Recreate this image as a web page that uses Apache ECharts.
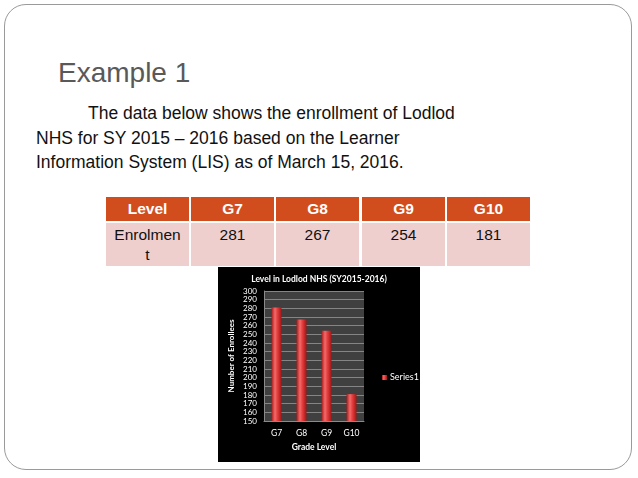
<!DOCTYPE html>
<html>
<head>
<meta charset="utf-8">
<script src="https://cdn.jsdelivr.net/npm/echarts@6/dist/echarts.min.js"></script>
<style>
  html, body { margin:0; padding:0; background:#fff; }
  body { width:638px; height:478px; position:relative; overflow:hidden; font-family:"Liberation Sans", Arial, sans-serif; }
  #frame { position:absolute; left:4px; top:4px; width:628px; height:466px; border:1px solid #9a9a9a; border-radius:22px; box-sizing:border-box; }
  #title { position:absolute; left:58px; top:59px; font-size:28px; line-height:28px; color:#595959; white-space:nowrap; }
  #para { position:absolute; left:36px; top:101px; font-size:17.5px; line-height:24.5px; color:#111; white-space:nowrap; }
  .cell { position:absolute; box-sizing:border-box; text-align:center; }
  .hd { background:#d24d1e; color:#fff; font-weight:bold; font-size:15.5px; line-height:24px; }
  .bd { background:#efcfce; color:#111; font-size:15.5px; line-height:20px; padding:2px 8px 0 8px; word-break:break-all; }
  #chart { position:absolute; left:218px; top:267px; width:202px; height:195px; background:#000; }
</style>
</head>
<body>
<div id="frame"></div>
<div id="title">Example 1</div>
<div id="para"><span style="display:inline-block;width:52px"></span>The data below shows the enrollment of Lodlod<br>NHS for SY 2015 – 2016 based on the Learner<br>Information System (LIS) as of March 15, 2016.</div>
<div id="table"></div>
<div id="chart"></div>
<script>
const categories = ["G7", "G8", "G9", "G10"];
const enrolment = [281, 267, 254, 181];
const headerLabel = "Level";
const rowLabel = "Enrolment";
const seriesName = "Series1";
const chartTitle = "Level in Lodlod NHS (SY2015-2016)";
const yTicks = { min: 150, max: 300, interval: 10 };

// table built from the same arrays
(function () {
  const t = document.getElementById('table');
  const colLeft = [106, 191, 276, 362, 447];
  const colW = 83;
  const head = [headerLabel].concat(categories);
  const body = [rowLabel].concat(enrolment.map(String));
  head.forEach((txt, i) => {
    const d = document.createElement('div');
    d.className = 'cell hd';
    d.style.left = colLeft[i] + 'px'; d.style.top = '197px';
    d.style.width = colW + 'px'; d.style.height = '24px';
    d.textContent = txt; t.appendChild(d);
  });
  body.forEach((txt, i) => {
    const d = document.createElement('div');
    d.className = 'cell bd';
    d.style.left = colLeft[i] + 'px'; d.style.top = '223px';
    d.style.width = colW + 'px'; d.style.height = '43px';
    d.textContent = txt; t.appendChild(d);
  });
})();

const chart = echarts.init(document.getElementById('chart'), null, { renderer: 'canvas' });
const font = 'Lato, "Open Sans", sans-serif';
chart.setOption({
  backgroundColor: '#000',
  animation: false,
  title: {
    text: chartTitle, left: 'center', top: 3,
    textStyle: { color: '#fff', fontSize: 8.5, fontWeight: 'bold', fontFamily: font }
  },
  legend: {
    data: [seriesName], left: 159, top: 101, icon: 'rect', itemWidth: 5, itemHeight: 5, itemGap: 3,
    textStyle: { color: '#fff', fontSize: 9, fontFamily: font, padding: [0, 0, 0, -2] }
  },
  grid: {
    left: 46, top: 24, width: 100, height: 130, show: true,
    backgroundColor: '#404040', borderWidth: 0
  },
  xAxis: {
    type: 'category', data: categories,
    name: 'Grade Level', nameLocation: 'middle', nameGap: 22,
    nameTextStyle: { color: '#fff', fontSize: 8.5, fontWeight: 'bold', fontFamily: font },
    axisLine: { lineStyle: { color: '#8a8a8a' } },
    axisTick: { show: false },
    axisLabel: { color: '#fff', fontSize: 8.5, margin: 8, fontFamily: font }
  },
  yAxis: {
    type: 'value', min: yTicks.min, max: yTicks.max, interval: yTicks.interval,
    name: 'Number of Enrollees', nameLocation: 'middle', nameGap: 29,
    nameTextStyle: { color: '#fff', fontSize: 8, fontWeight: 'bold', fontFamily: font },
    axisLine: { show: true, lineStyle: { color: '#8a8a8a' } },
    axisTick: { show: false },
    axisLabel: { color: '#fff', fontSize: 8, margin: 7, fontFamily: font,
      showMinLabel: true, showMaxLabel: true, hideOverlap: false },
    splitLine: { lineStyle: { color: '#858585', width: 1 } }
  },
  series: [{
    name: seriesName, type: 'bar', data: enrolment, barWidth: 10,
    itemStyle: {
      color: new echarts.graphic.LinearGradient(0, 0, 1, 0, [
        { offset: 0, color: '#a91a1a' },
        { offset: 0.35, color: '#f46a6a' },
        { offset: 0.6, color: '#e23c3c' },
        { offset: 1, color: '#a01616' }
      ])
    }
  }]
});
</script>
</body>
</html>
